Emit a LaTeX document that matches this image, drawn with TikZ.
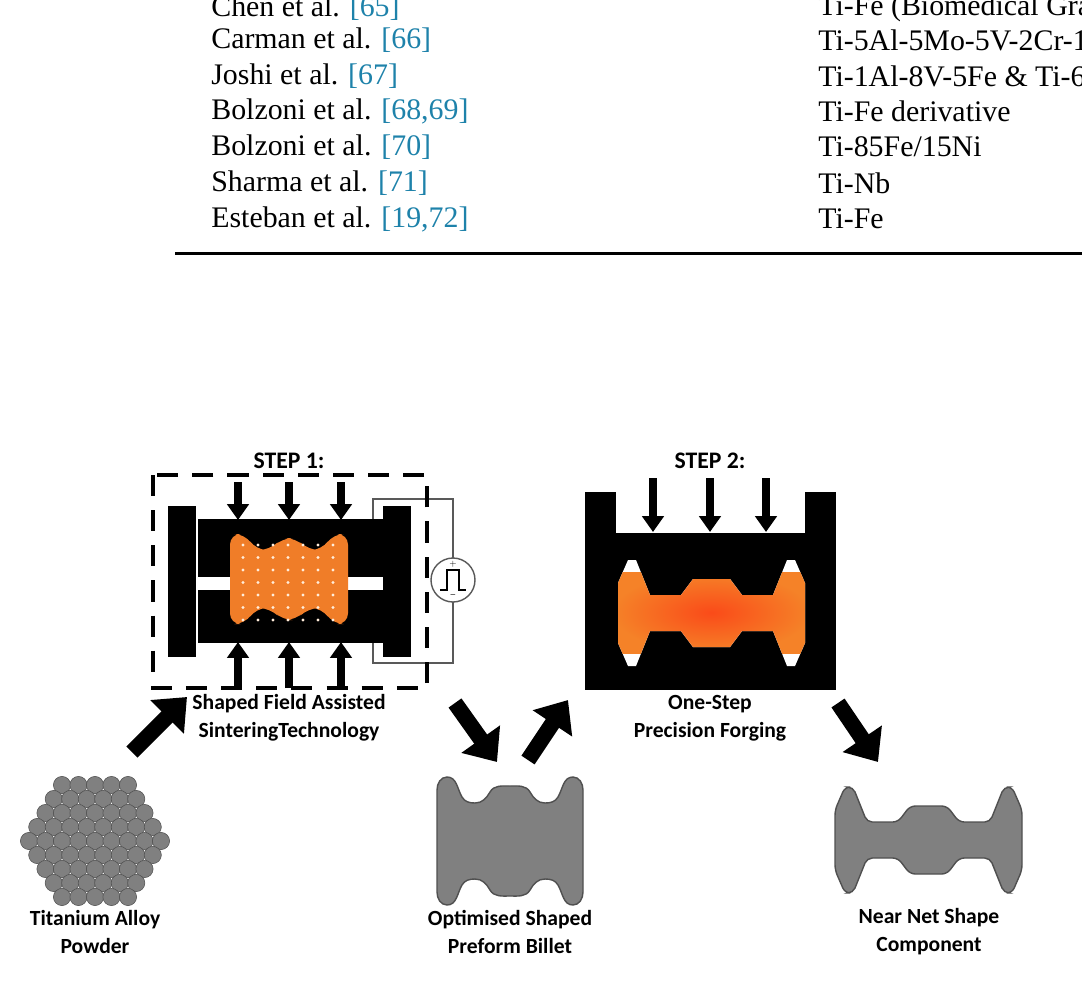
\documentclass[tikz,border=0pt]{standalone}
\usepackage{fontspec}
\setmainfont{Liberation Serif}
\newfontfamily\lab{Carlito}
\usetikzlibrary{arrows.meta}
\definecolor{cite}{RGB}{30,130,170}
\definecolor{sorange}{RGB}{240,125,40}
\definecolor{pgray}{RGB}{128,128,128}
\definecolor{pedge}{RGB}{80,80,80}
\def\NNpath{(835,810)--(845,787)--(853,787)--(867,822)--(898,822)--(910,806)--(947,806)--(959,822)--(990,822)--(1004,787)--(1012,787)--(1022,810)--(1022,870)--(1012,893)--(1004,893)--(990,858)--(959,858)--(947,874)--(910,874)--(898,858)--(867,858)--(853,893)--(845,893)--(835,870)--cycle}
\begin{document}
\begin{tikzpicture}[x=0.02cm,y=-0.02cm,
  tab/.style={anchor=west,font=\fontsize{17}{19}\selectfont,inner sep=0},
  lbl/.style={font=\lab\bfseries\fontsize{12.3}{14}\selectfont,align=center,inner sep=0},
  stp/.style={font=\lab\bfseries\fontsize{13.5}{15}\selectfont,inner sep=0},
  parr/.style={line width=4.5pt,-{Triangle[length=9pt,width=12pt]}},
  bigarr/.style={line width=9pt,-{Triangle[length=16pt,width=26pt]}},
  blk/.style={fill=black}]
\useasboundingbox (0,0) rectangle (1082,998);
\begin{scope}
\clip (0,0) rectangle (1082,998);
% table
\foreach \y/\a/\c/\m in {8/Chen et al./65/Ti-Fe (Biomedical Grade),40/Carman et al./66/Ti-5Al-5Mo-5V-2Cr-1Fe,76/Joshi et al./67/Ti-1Al-8V-5Fe \& Ti-6Al-4V,111/Bolzoni et al./{68,69}/Ti-Fe derivative,147/Bolzoni et al./70/{Ti-85Fe/15Ni},183/Sharma et al./71/Ti-Nb,219/Esteban et al./{19,72}/Ti-Fe}{
  \node[tab] (a\y) at (211,\y) {\a{} \textcolor{cite}{[\c]}};
  \node[tab] (m\y) at (818,\y) {\m};
}
\end{scope}
\fill (175,251.5) rectangle (1082,254.5);

% STEP 1
\node[stp] (s1) at (289,461) {STEP 1:};
\draw[line width=0.8pt,gray!70!black] (373,499) rectangle (453,663);
\draw[line width=0.8pt,gray!70!black,fill=white] (453,580) circle (22);
\draw[line width=0.8pt] (440,590)--(447,590)--(447,570)--(459,570)--(459,590)--(466,590);
\node[font=\sffamily\tiny,inner sep=0] (pl) at (453,564) {+};
\node[font=\sffamily\tiny,inner sep=0] (mi) at (453,596) {--};
\fill (168,506) rectangle (196,657);
\fill (383,506) rectangle (411,657);
\fill (198,519) rectangle (383,643);
\fill[white] (198,577) rectangle (383,590);
\fill[sorange,rounded corners=6] (230,534)--(245,534)--(256,550)--(270,550)--(282,538)--(296,538)--(308,550)--(322,550)--(333,534)--(348,534)--(348,624)--(333,624)--(322,608)--(308,608)--(296,620)--(282,620)--(270,608)--(256,608)--(245,624)--(230,624)--cycle;
\foreach \i in {0,...,6}{\foreach \j in {0,...,6}{\fill[white!85!orange] (243+15*\i,545+12.5*\j) circle (1.6);}}
\foreach \x in {238,289,341}{
  \coordinate (t\x) at (\x,482); \coordinate (tb\x) at (\x,520);
  \draw[parr] (t\x) -- (tb\x);
  \coordinate (b\x) at (\x,688); \coordinate (bb\x) at (\x,642);
  \draw[parr] (b\x) -- (bb\x);}
\draw[line width=1.8pt,dash pattern=on 12pt off 8pt] (153,475) rectangle (427,688);
\node[lbl] (l1) at (289,718) {Shaped Field Assisted\\[2pt]SinteringTechnology};

% STEP 2
\node[stp] (s2) at (710,461) {STEP 2:};
\fill (585,492) rectangle (616,690);
\fill (805,492) rectangle (836,690);
\fill (585,533) rectangle (836,690);
\begin{scope}[shift={(-217,-227)}]
\fill[white] \NNpath;
\begin{scope}
\clip \NNpath;
\shade[inner color={rgb,255:red,250;green,75;blue,25},outer color={rgb,255:red,245;green,130;blue,40}] (830,799) rectangle (1027,880);
\end{scope}
\end{scope}
\foreach \x in {653,710,766}{
  \coordinate (u\x) at (\x,478); \coordinate (ub\x) at (\x,532);
  \draw[parr] (u\x) -- (ub\x);}
\node[lbl] (l2) at (710,718) {One-Step\\[2pt]Precision Forging};

% big arrows
\coordinate (A1) at (132,752); \coordinate (A2) at (187,697);
\draw[bigarr] (A1) -- (A2);
\coordinate (B1) at (455,703); \coordinate (B2) at (497,762);
\draw[bigarr] (B1) -- (B2);
\coordinate (C1) at (528,760); \coordinate (C2) at (568,700);
\draw[bigarr] (C1) -- (C2);
\coordinate (D1) at (838,703); \coordinate (D2) at (878,762);
\draw[bigarr] (D1) -- (D2);

% powder
\foreach \r/\n in {0/5,1/6,2/7,3/8,4/9,5/8,6/7,7/6,8/5}{
  \pgfmathsetmacro\xs{95-16.5*(\n-1)/2}
  \foreach \k in {1,...,\n}{
    \fill[pgray,draw=pedge,line width=0.3pt] (\xs+16.5*\k-16.5,785+14*\r) circle (8.6);}}
\node[lbl] (l3) at (95,932) {Titanium Alloy\\[2pt]Powder};

% billet
\filldraw[fill=pgray,draw=pedge,line width=0.8pt] (437,790) to[out=90,in=180] (447,777) to[out=0,in=120] (462,797) to[out=-60,in=180] (475,803) to[out=0,in=-120] (490,792) to[out=60,in=180] (510,786) to[out=0,in=120] (530,792) to[out=-60,in=180] (545,803) to[out=0,in=-120] (558,797) to[out=60,in=180] (573,777) to[out=0,in=90] (583,790) -- (583,892) to[out=-90,in=0] (573,905) to[out=180,in=-60] (558,885) to[out=120,in=0] (545,879) to[out=180,in=60] (530,890) to[out=-120,in=0] (510,896) to[out=180,in=-60] (490,890) to[out=120,in=0] (475,879) to[out=180,in=60] (462,885) to[out=-120,in=0] (447,905) to[out=180,in=-90] (437,892) -- cycle;
\node[lbl] (l4) at (510,932) {Optimised Shaped\\[2pt]Preform Billet};

% near net
\filldraw[fill=pgray,draw=pedge,line width=0.8pt,rounded corners=3] \NNpath;
\node[lbl] (l5) at (929,932) {Near Net Shape\\[2pt]Component};
\end{tikzpicture}
\end{document}
